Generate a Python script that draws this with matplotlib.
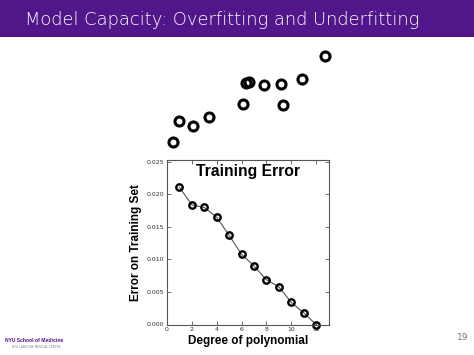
import matplotlib
matplotlib.use('Agg')
import matplotlib.pyplot as plt
from matplotlib.patches import Rectangle

# scatter of the toy data (slide illustration, unitless)
scatter_x = [173, 179, 193, 209, 243, 246, 249, 264, 281, 283, 302, 325]
scatter_y = [142, 121, 126, 117, 104, 83, 82, 85, 84, 105, 79, 56]

# training error vs degree
degrees = [1, 2, 3, 4, 5, 6, 7, 8, 9, 10, 11, 12]
train_err = [0.0211, 0.0184, 0.0180, 0.0165, 0.0137, 0.0108,
             0.0090, 0.0069, 0.0058, 0.0034, 0.0018, 0.0000]
xticks = [0, 2, 4, 6, 8, 10, 12]
yticks = [0.000, 0.005, 0.010, 0.015, 0.020, 0.025]

W, H = 474, 355
fig = plt.figure(figsize=(W / 100, H / 100), dpi=100)
fig.patch.set_facecolor('white')

# purple title banner
fig.patches.append(Rectangle((0, 1 - 37 / H), 1, 37 / H, transform=fig.transFigure,
                             facecolor='#51168a', edgecolor='none', zorder=0))
fig.text(25 / W, 1 - 20 / H, 'Model Capacity: Overfitting and Underfitting',
         color='white', fontsize=12.9, family='DejaVu Sans', fontweight='light',
         va='center', ha='left')

# scatter drawn in a frameless axes over the whole slide
sax = fig.add_axes([0, 0, 1, 1])
sax.set_xlim(0, W)
sax.set_ylim(H, 0)
sax.axis('off')
sax.plot(scatter_x, scatter_y, 'o', ms=6.5, mfc='none', mec='black', mew=2.2)

# training error plot
ax = fig.add_axes([167 / W, 30.5 / H, 161.5 / W, 164.5 / H])
ax.plot(degrees, train_err, '-', color='#555555', lw=0.8)
ax.plot(degrees, train_err, 'o', ms=4.6, mfc='none', mec='black', mew=1.7, clip_on=False)
ax.set_xlim(0, 13)
ax.set_ylim(0, 0.0253)
ax.set_xticks(xticks)
ax.set_yticks(yticks)
ax.set_yticklabels(['%.3f' % v for v in yticks])
ax.tick_params(direction='in', length=3, width=0.5, labelsize=4.5, colors='#333333',
               top=True, right=True, pad=2)
for s in ax.spines.values():
    s.set_color('#555555')
    s.set_linewidth(0.8)
ax.text(0.5, 0.93, 'Training Error', transform=ax.transAxes, ha='center', va='center',
        fontsize=11.3, fontweight='bold', family='Liberation Sans')
ax.set_xlabel('Degree of polynomial', fontsize=8.5, fontweight='bold',
              family='Liberation Sans', labelpad=2)
ax.set_ylabel('Error on Training Set', fontsize=8.5, fontweight='bold',
              family='Liberation Sans', labelpad=3)

# footer
fig.text(5 / W, 1 - 340 / H, 'NYU School of Medicine', color='#57068c', fontsize=3.6,
         fontweight='bold', family='Liberation Sans', va='center', ha='left')
fig.text(12 / W, 1 - 347 / H, 'NYU LANGONE MEDICAL CENTER', color='#888888', fontsize=2.2,
         va='center', ha='left')
fig.text(463 / W, 1 - 337 / H, '19', color='#777777', fontsize=6.5, va='center', ha='center')

fig.savefig('out.png', dpi=100)
